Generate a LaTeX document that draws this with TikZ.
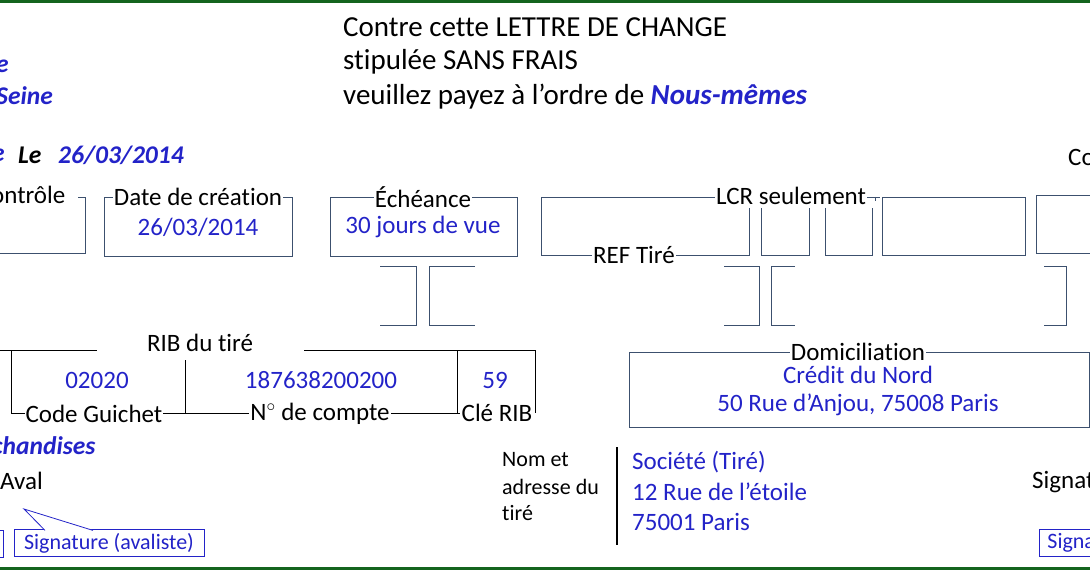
\documentclass[tikz,border=0pt]{standalone}
\usepackage{fontspec}
\setmainfont[Ligatures=CommonOff]{Carlito}
\definecolor{frame}{RGB}{20,100,30}
\definecolor{bl}{RGB}{35,35,200}
\definecolor{ln}{RGB}{60,80,110}
\begin{document}
\begin{tikzpicture}[x=1pt,y=-1pt,
  big/.style={font=\fontsize{29}{32}\selectfont,anchor=west,inner sep=0},
  lab/.style={font=\fontsize{25}{28}\selectfont,inner sep=1pt,fill=white},
  val/.style={font=\fontsize{25}{28}\selectfont,text=bl,inner sep=0},
  bi/.style={font=\fontsize{25.5}{28}\selectfont\bfseries\itshape,text=bl,inner sep=0,anchor=west},
  sm/.style={font=\fontsize{22}{24}\selectfont,inner sep=0,anchor=west},
  bx/.style={draw=ln,line width=0.8pt},
  blk/.style={draw=black,line width=0.8pt}]
\useasboundingbox (0,0) rectangle (1090,572);
\clip (0,0) rectangle (1090,572);
\draw[frame,line width=3pt] (0,2)--(1090,2) (0,568)--(1090,568);
% title
\node[big] (t1) at (343,27) {Contre cette LETTRE DE CHANGE};
\node[big] (t2) at (343,62) {stipulée SANS FRAIS};
\node[big] (t3) at (343,97) {veuillez payez à l\char"0027 ordre de \textcolor{bl}{\bfseries\itshape Nous-mêmes}};
\node[bi] (e1) at (-4,66) {e};
\node[bi] (e2) at (-4,96) {Seine};
\node[bi] (e3) at (-8,155) {e};
\node[bi,text=black] (le) at (18,155) {Le};
\node[bi] (dt) at (58,155) {26/03/2014};
\node[lab,fill=none,anchor=west,inner sep=0] (co) at (1068,157) {Co};
% controle
\draw[bx] (0,253)--(85,253)--(85,197)--(78,197);
\node[lab,anchor=west] (ctl) at (-10,195) {ontrôle};
% date de creation
\draw[bx] (104,197) rectangle (292,256);
\node[lab] (dc) at (198,197) {Date de création};
\node[val] (dcv) at (198,227) {26/03/2014};
% echeance
\draw[bx] (330,197) rectangle (517,256);
\node[lab] (ec) at (423,197) {Échéance};
\node[val] (ecv) at (423,227) {30 jours de vue};
% brackets
\draw[bx] (380,266)--(416,266)--(416,325)--(380,325);
\draw[bx] (475,266)--(429,266)--(429,325)--(475,325);
\draw[bx] (724,266)--(759,266)--(759,325)--(724,325);
\draw[bx] (795,266)--(771,266)--(771,325)--(795,325);
\draw[bx] (1044,266)--(1066,266)--(1066,325)--(1044,325);
% LCR
\draw[bx] (749,208)--(749,255)--(541,255)--(541,197)--(880,197);
\draw[bx] (875,197)--(875,201);
\node[lab] (lcr) at (791,196) {LCR seulement};
\node[lab] (ref) at (634,255) {REF Tiré};
\draw[bx] (761,208)--(761,255)--(809,255)--(809,208);
\draw[bx] (825,208)--(825,255)--(872,255)--(872,208);
\draw[bx] (882,197) rectangle (1025,255);
\draw[bx] (1036,195) rectangle (1100,253);
% RIB
\draw[blk] (0,350)--(97,350) (304,350)--(535,350)--(535,413);
\node[lab,fill=none] (rib) at (200,343) {RIB du tiré};
\draw[blk] (11,350)--(11,413) (185,360)--(185,413) (457,350)--(457,413);
\draw[blk] (11,413)--(460,413);
\node[lab] (cg) at (94,414) {Code Guichet};
\node[lab] (nc) at (320,414) {N$^\circ$ de compte};
\node[lab] (cr) at (497,413) {Clé RIB};
\node[val] (v1) at (97,380) {02020};
\node[val] (v2) at (321,380) {187638200200};
\node[val] (v3) at (495,380) {59};
% aval
\node[bi] (mch) at (-8,446) {chandises};
\node[lab,fill=none,anchor=west,inner sep=0] (av) at (0,481) {Aval};
\draw[draw=bl,line width=0.8pt] (-5,530) rectangle (3,557);
\node[draw=bl,line width=0.8pt,fill=white,text=bl,minimum width=190,minimum height=27,inner sep=0,font=\fontsize{22}{24}\selectfont] (sig) at (109,543) {Signature (avaliste)};
\coordinate (tip) at (24,509);
\draw[bl,line width=0.8pt,fill=white] (45,530.4)--(tip)--(93,530.4);
% tiré
\node[sm] (n1) at (502,460) {Nom et};
\node[sm] (n2) at (502,487) {adresse du};
\node[sm] (n3) at (502,513) {tiré};
\draw[black,line width=1.5pt] (617,447)--(617,545);
\node[val,anchor=west] (s1) at (632,462) {Société (Tiré)};
\node[val,anchor=west] (s2) at (632,492) {12 Rue de l’étoile};
\node[val,anchor=west] (s3) at (632,522) {75001 Paris};
% domiciliation
\draw[bx] (629,352) rectangle (1089,427);
\node[lab] (dom) at (858,352) {Domiciliation};
\node[val] (d1) at (858,375) {Crédit du Nord};
\node[val] (d2) at (858,405) {50 Rue d’Anjou, 75008 Paris};
% signature right
\node[lab,fill=none,anchor=west,inner sep=0] (sgn) at (1032,482) {Signature};
\node[draw=bl,line width=0.8pt,text=bl,anchor=west,minimum height=27,inner xsep=8pt,font=\fontsize{22}{24}\selectfont] (sg2) at (1039,543) {Signature};
\end{tikzpicture}
\end{document}
